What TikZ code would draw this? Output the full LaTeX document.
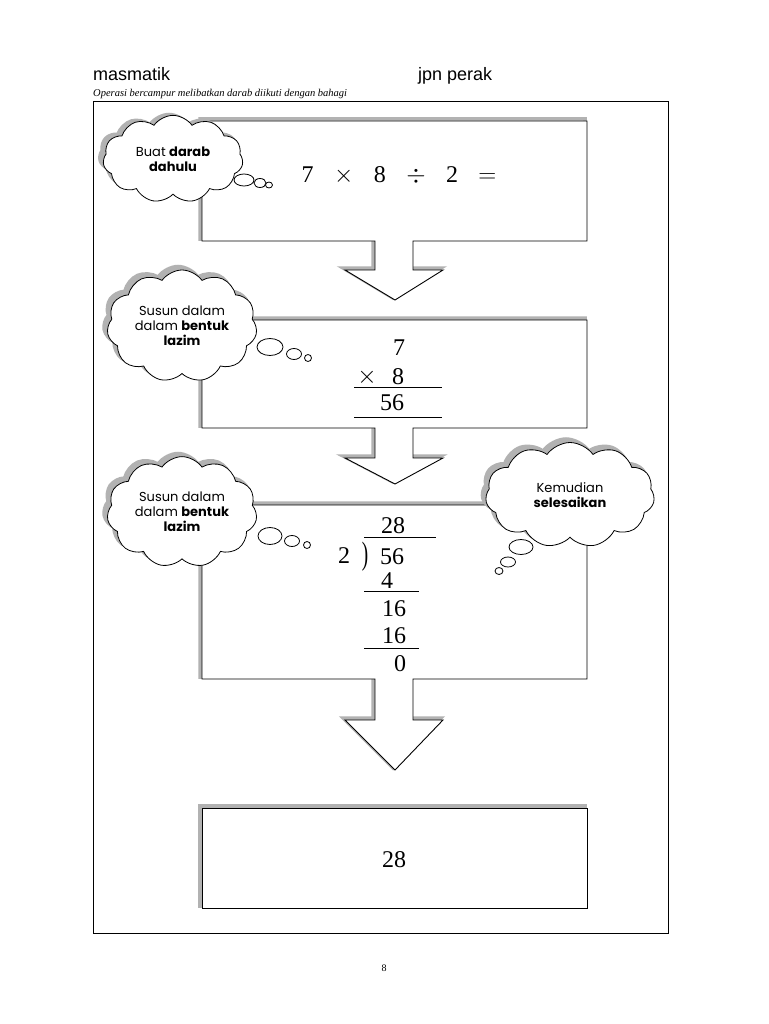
\documentclass[tikz,border=0pt]{standalone}
\usepackage{fontspec}
\setmainfont{Liberation Serif}
\newfontfamily\hd{Liberation Sans}
\newfontfamily\cl{Poppins}
\usetikzlibrary{shapes.symbols,shapes.geometric}
\begin{document}
\begin{tikzpicture}[x=1pt,y=-1pt,
  bx/.style={draw=black,line width=0.9pt,fill=white},
  sh/.style={draw=gray!60,line width=3.5pt},
  cloudb/.style={cloud,cloud puffs=11,cloud puff arc=110,aspect=1.4,draw=black,line width=0.8pt,fill=white,inner sep=0pt,align=center,font=\cl\fontsize{13}{15}\selectfont},
  cloudsh/.style={cloud,cloud puffs=11,cloud puff arc=110,aspect=1.4,draw=gray!60,line width=2.5pt,fill=gray!60,inner sep=0pt},
  bub/.style={ellipse,draw=black,line width=0.8pt,fill=white,inner sep=0pt},
  num/.style={font=\fontsize{24}{26}\selectfont,inner sep=0pt},
  ln/.style={draw=black,line width=0.8pt}]
\useasboundingbox (0,0) rectangle (768,1024);
\fill[white] (0,0) rectangle (768,1024);
% header
\node[anchor=base west,font=\hd\fontsize{18}{20}\selectfont,inner sep=0pt] (h1) at (93,81) {masmatik};
\node[anchor=base west,font=\hd\fontsize{18}{20}\selectfont,inner sep=0pt] (h2) at (418,81) {jpn perak};
\node[anchor=base west,font=\itshape\fontsize{10.5}{12}\selectfont,inner sep=0pt] (sub) at (93,97) {Operasi bercampur melibatkan darab diikuti dengan bahagi};
\draw[line width=0.7pt] (93,101) rectangle (668,933);
\node[font=\fontsize{10}{12}\selectfont] (pg) at (384,968) {8};
% box paths
\def\boxone{(202,121) -- (587,121) -- (587,241) -- (413,241) -- (413,270) -- (443,270) -- (395,300) -- (345,270) -- (375,270) -- (375,241) -- (202,241) -- cycle}
\def\boxtwo{(202,320) -- (587,320) -- (587,428) -- (413,428) -- (413,458) -- (443,458) -- (395,484) -- (345,458) -- (375,458) -- (375,428) -- (202,428) -- cycle}
\def\boxthree{(202,505) -- (587,505) -- (587,679) -- (413,679) -- (413,720) -- (443,720) -- (395,770) -- (345,720) -- (375,720) -- (375,679) -- (202,679) -- cycle}
\def\boxfour{(202,808) -- (587,808) -- (587,908) -- (202,908) -- cycle}
\foreach \p in {\boxone,\boxtwo,\boxthree,\boxfour}{
  \draw[sh,shift={(-2,-2)}] \p;
  \draw[bx] \p;
}
% box 1
\node[num] (e1) at (399,176) {7\hspace{0.85em}$\times$\hspace{0.85em}8\hspace{0.85em}$\div$\hspace{0.85em}2\hspace{0.85em}$=$};
% box 2
\node[num] (a7) at (399,348) {7};
\node[num] (ax) at (367,377) {$\times$};
\node[num] (a8) at (398,377) {8};
\coordinate (l1a) at (354,387); \coordinate (l1b) at (442,387);
\draw[ln] (l1a) -- (l1b);
\node[num] (a56) at (392,403) {56};
\coordinate (l2a) at (354,417); \coordinate (l2b) at (442,417);
\draw[ln] (l2a) -- (l2b);
% box 3
\node[num] (q) at (393,526) {28};
\coordinate (l3a) at (364,537); \coordinate (l3b) at (436,537);
\draw[ln] (l3a) -- (l3b);
\node[num] (d2) at (344,556) {2};
\node[num] (br) at (365,557) {\scalebox{0.8}[1.35]{)}};
\node[num] (d56) at (392,557) {56};
\node[num] (d4) at (387,581) {4};
\coordinate (l4a) at (364,591); \coordinate (l4b) at (419,591);
\draw[ln] (l4a) -- (l4b);
\node[num] (d16a) at (394,609) {16};
\node[num] (d16b) at (394,636) {16};
\coordinate (l5a) at (364,648); \coordinate (l5b) at (419,648);
\draw[ln] (l5a) -- (l5b);
\node[num] (d0) at (400,664) {0};
% box 4
\node[num] (res) at (394,860) {28};
% clouds
\node[cloudsh,minimum width=140,minimum height=82] (c1s) at (169,155) {};
\node[cloudb,minimum width=140,minimum height=82] (c1) at (173,159) {Buat \textbf{darab}\\\textbf{dahulu}};
\node[bub,minimum width=20,minimum height=12] (b11) at (244,180) {};
\node[bub,minimum width=12,minimum height=9] (b12) at (260,183) {};
\node[bub,minimum width=7,minimum height=6] (b13) at (269,185) {};
\node[cloudsh,minimum width=150,minimum height=112] (c2s) at (178,322) {};
\node[cloudb,minimum width=150,minimum height=112] (c2) at (182,326) {Susun dalam\\dalam \textbf{bentuk}\\\textbf{lazim}};
\node[bub,minimum width=26,minimum height=17] (b21) at (270,347) {};
\node[bub,minimum width=15,minimum height=11] (b22) at (294,354) {};
\node[bub,minimum width=7,minimum height=7] (b23) at (308,358) {};
\node[cloudsh,minimum width=150,minimum height=110] (c3s) at (178,508) {};
\node[cloudb,minimum width=150,minimum height=110] (c3) at (182,512) {Susun dalam\\dalam \textbf{bentuk}\\\textbf{lazim}};
\node[bub,minimum width=24,minimum height=17] (b31) at (270,536) {};
\node[bub,minimum width=15,minimum height=11] (b32) at (292,541) {};
\node[bub,minimum width=7,minimum height=7] (b33) at (307,545) {};
\node[cloudsh,minimum width=169,minimum height=105] (c4s) at (566,491) {};
\node[cloudb,minimum width=169,minimum height=105] (c4) at (570,495) {Kemudian\\\textbf{selesaikan}};
\node[bub,minimum width=24,minimum height=15] (b41) at (521,547) {};
\node[bub,minimum width=15,minimum height=10] (b42) at (508,562) {};
\node[bub,minimum width=8,minimum height=7] (b43) at (499,571) {};
\end{tikzpicture}
\end{document}
